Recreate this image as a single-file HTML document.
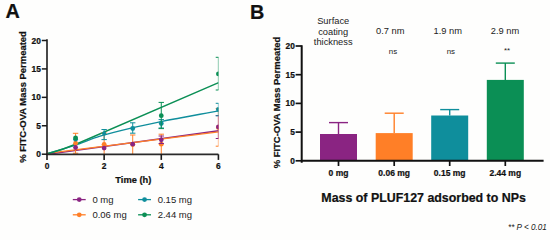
<!DOCTYPE html><html><head><meta charset="utf-8"><style>html,body{margin:0;padding:0;background:#fefefd;width:550px;height:237px;overflow:hidden}svg{display:block}text{font-family:"Liberation Sans",sans-serif}text[font-weight=bold]{stroke:#111;stroke-width:0.22px}</style></head><body>
<svg width="550" height="237" viewBox="0 0 550 237">
<text x="5.5" y="18.2" font-size="19.8" font-weight="bold" fill="#111">A</text>
<text x="249.9" y="18.7" font-size="19.8" font-weight="bold" fill="#111">B</text>
<text transform="translate(26,97) rotate(-90)" text-anchor="middle" font-size="9.45" font-weight="bold" fill="#111">% FITC-OVA Mass Permeated</text>
<defs><clipPath id="ca"><rect x="46" y="30" width="172.4" height="124.6"/></clipPath></defs>
<g clip-path="url(#ca)">
<line x1="46.8" y1="154.4" x2="218.6" y2="130.8" stroke="#8A2482" stroke-width="1.4"/>
<line x1="46.8" y1="153.3" x2="218.6" y2="131.9" stroke="#FF7F27" stroke-width="1.3"/>
<path d="M46.80,153.90 C51.42,152.48 65.63,148.35 74.50,145.40 C83.37,142.45 90.75,139.03 100.00,136.20 C109.25,133.37 119.83,130.83 130.00,128.40 C140.17,125.97 152.67,123.33 161.00,121.60 C169.33,119.87 173.50,119.22 180.00,118.00 C186.50,116.78 193.57,115.48 200.00,114.30 C206.43,113.12 215.50,111.47 218.60,110.90" fill="none" stroke="#0F8E9C" stroke-width="1.4" stroke-linejoin="round"/>
<path d="M46.8,153.9 Q62.9,149.8 78.8,143.0 L218.6,82.7" fill="none" stroke="#0B8F55" stroke-width="1.4" stroke-linejoin="round"/>
<line x1="75.57" y1="133.3" x2="75.57" y2="153.2" stroke="#FF7F27" stroke-width="1"/><line x1="72.86999999999999" y1="133.3" x2="78.27" y2="133.3" stroke="#FF7F27" stroke-width="1"/><line x1="72.86999999999999" y1="153.2" x2="78.27" y2="153.2" stroke="#FF7F27" stroke-width="1"/><circle cx="75.57" cy="143.2" r="2.4" fill="#FF7F27"/>
<line x1="104.14" y1="133.0" x2="104.14" y2="154.9" stroke="#FF7F27" stroke-width="1"/><line x1="101.44" y1="133.0" x2="106.84" y2="133.0" stroke="#FF7F27" stroke-width="1"/><line x1="101.44" y1="154.9" x2="106.84" y2="154.9" stroke="#FF7F27" stroke-width="1"/><circle cx="104.14" cy="144.3" r="2.4" fill="#FF7F27"/>
<line x1="132.71" y1="135.0" x2="132.71" y2="154.9" stroke="#FF7F27" stroke-width="1"/><line x1="130.01000000000002" y1="135.0" x2="135.41" y2="135.0" stroke="#FF7F27" stroke-width="1"/><line x1="130.01000000000002" y1="154.9" x2="135.41" y2="154.9" stroke="#FF7F27" stroke-width="1"/><circle cx="132.71" cy="144.5" r="2.4" fill="#FF7F27"/>
<line x1="161.28" y1="134.2" x2="161.28" y2="154.5" stroke="#FF7F27" stroke-width="1"/><line x1="158.58" y1="134.2" x2="163.98" y2="134.2" stroke="#FF7F27" stroke-width="1"/><line x1="158.58" y1="154.5" x2="163.98" y2="154.5" stroke="#FF7F27" stroke-width="1"/><circle cx="161.28" cy="144.2" r="2.4" fill="#FF7F27"/>
<line x1="218.42000000000002" y1="108.5" x2="218.42000000000002" y2="146.2" stroke="#FF7F27" stroke-width="1"/><line x1="215.72000000000003" y1="108.5" x2="221.12" y2="108.5" stroke="#FF7F27" stroke-width="1"/><line x1="215.72000000000003" y1="146.2" x2="221.12" y2="146.2" stroke="#FF7F27" stroke-width="1"/><circle cx="218.42000000000002" cy="127.5" r="2.4" fill="#FF7F27"/>
<circle cx="75.57" cy="147.5" r="2.4" fill="#8A2482"/>
<circle cx="104.14" cy="148.1" r="2.4" fill="#8A2482"/>
<circle cx="132.71" cy="144.2" r="2.4" fill="#8A2482"/>
<line x1="161.28" y1="136.0" x2="161.28" y2="143.5" stroke="#8A2482" stroke-width="1"/><line x1="158.58" y1="136.0" x2="163.98" y2="136.0" stroke="#8A2482" stroke-width="1"/><line x1="158.58" y1="143.5" x2="163.98" y2="143.5" stroke="#8A2482" stroke-width="1"/><circle cx="161.28" cy="139.8" r="2.4" fill="#8A2482"/>
<line x1="218.42000000000002" y1="115.6" x2="218.42000000000002" y2="138.5" stroke="#8A2482" stroke-width="1"/><line x1="215.72000000000003" y1="115.6" x2="221.12" y2="115.6" stroke="#8A2482" stroke-width="1"/><line x1="215.72000000000003" y1="138.5" x2="221.12" y2="138.5" stroke="#8A2482" stroke-width="1"/><circle cx="218.42000000000002" cy="126.9" r="2.4" fill="#8A2482"/>
<circle cx="75.57" cy="139.2" r="2.4" fill="#0F8E9C"/>
<line x1="104.14" y1="129.5" x2="104.14" y2="139.6" stroke="#0F8E9C" stroke-width="1"/><line x1="101.44" y1="129.5" x2="106.84" y2="129.5" stroke="#0F8E9C" stroke-width="1"/><line x1="101.44" y1="139.6" x2="106.84" y2="139.6" stroke="#0F8E9C" stroke-width="1"/><circle cx="104.14" cy="133.6" r="2.1" fill="#0F8E9C"/>
<line x1="132.71" y1="122.8" x2="132.71" y2="133.2" stroke="#0F8E9C" stroke-width="1"/><line x1="130.01000000000002" y1="122.8" x2="135.41" y2="122.8" stroke="#0F8E9C" stroke-width="1"/><line x1="130.01000000000002" y1="133.2" x2="135.41" y2="133.2" stroke="#0F8E9C" stroke-width="1"/><circle cx="132.71" cy="128.5" r="2.4" fill="#0F8E9C"/>
<line x1="161.28" y1="119.6" x2="161.28" y2="128.0" stroke="#0F8E9C" stroke-width="1"/><line x1="158.58" y1="119.6" x2="163.98" y2="119.6" stroke="#0F8E9C" stroke-width="1"/><line x1="158.58" y1="128.0" x2="163.98" y2="128.0" stroke="#0F8E9C" stroke-width="1"/><circle cx="161.28" cy="123.5" r="2.4" fill="#0F8E9C"/>
<line x1="218.42000000000002" y1="103.3" x2="218.42000000000002" y2="115.8" stroke="#0F8E9C" stroke-width="1"/><line x1="215.72000000000003" y1="103.3" x2="221.12" y2="103.3" stroke="#0F8E9C" stroke-width="1"/><line x1="215.72000000000003" y1="115.8" x2="221.12" y2="115.8" stroke="#0F8E9C" stroke-width="1"/><circle cx="218.42000000000002" cy="109.5" r="2.4" fill="#0F8E9C"/>
<circle cx="75.57" cy="138.0" r="2.4" fill="#0B8F55"/>
<line x1="161.28" y1="102.4" x2="161.28" y2="128.6" stroke="#0B8F55" stroke-width="1"/><line x1="158.58" y1="102.4" x2="163.98" y2="102.4" stroke="#0B8F55" stroke-width="1"/><line x1="158.58" y1="128.6" x2="163.98" y2="128.6" stroke="#0B8F55" stroke-width="1"/><circle cx="161.28" cy="115.7" r="2.4" fill="#0B8F55"/>
<line x1="218.42000000000002" y1="57.3" x2="218.42000000000002" y2="90.0" stroke="#0B8F55" stroke-width="1"/><line x1="215.72000000000003" y1="57.3" x2="221.12" y2="57.3" stroke="#0B8F55" stroke-width="1"/><line x1="215.72000000000003" y1="90.0" x2="221.12" y2="90.0" stroke="#0B8F55" stroke-width="1"/><circle cx="218.42000000000002" cy="73.9" r="2.4" fill="#0B8F55"/>
</g>
<path d="M47,39.2 V154.3 H218.4" fill="none" stroke="#2a2a2a" stroke-width="1.7"/>
<line x1="41.8" y1="154.20" x2="47" y2="154.20" stroke="#1a1a1a" stroke-width="1.5"/>
<text x="40.9" y="157.20" text-anchor="end" font-size="8.4" font-weight="bold" fill="#111">0</text>
<line x1="41.8" y1="125.77" x2="47" y2="125.77" stroke="#1a1a1a" stroke-width="1.5"/>
<text x="40.9" y="128.77" text-anchor="end" font-size="8.4" font-weight="bold" fill="#111">5</text>
<line x1="41.8" y1="97.35" x2="47" y2="97.35" stroke="#1a1a1a" stroke-width="1.5"/>
<text x="40.9" y="100.35" text-anchor="end" font-size="8.4" font-weight="bold" fill="#111">10</text>
<line x1="41.8" y1="68.92" x2="47" y2="68.92" stroke="#1a1a1a" stroke-width="1.5"/>
<text x="40.9" y="71.92" text-anchor="end" font-size="8.4" font-weight="bold" fill="#111">15</text>
<line x1="41.8" y1="40.50" x2="47" y2="40.50" stroke="#1a1a1a" stroke-width="1.5"/>
<text x="40.9" y="43.50" text-anchor="end" font-size="8.4" font-weight="bold" fill="#111">20</text>
<line x1="47.00" y1="154.3" x2="47.00" y2="159.9" stroke="#1a1a1a" stroke-width="1.6"/>
<text x="47.00" y="169.2" text-anchor="middle" font-size="8.4" font-weight="bold" fill="#111">0</text>
<line x1="104.14" y1="154.3" x2="104.14" y2="159.9" stroke="#1a1a1a" stroke-width="1.6"/>
<text x="104.14" y="169.2" text-anchor="middle" font-size="8.4" font-weight="bold" fill="#111">2</text>
<line x1="161.28" y1="154.3" x2="161.28" y2="159.9" stroke="#1a1a1a" stroke-width="1.6"/>
<text x="161.28" y="169.2" text-anchor="middle" font-size="8.4" font-weight="bold" fill="#111">4</text>
<line x1="218.42" y1="154.3" x2="218.42" y2="159.9" stroke="#1a1a1a" stroke-width="1.6"/>
<text x="218.42" y="169.2" text-anchor="middle" font-size="8.4" font-weight="bold" fill="#111">6</text>
<text x="133.3" y="182.8" text-anchor="middle" font-size="9.3" font-weight="bold" fill="#111">Time (h)</text>
<line x1="72.8" y1="199.6" x2="85.7" y2="199.6" stroke="#8A2482" stroke-width="1.3"/>
<circle cx="79.25" cy="199.6" r="2.4" fill="#8A2482"/>
<text x="92.4" y="202.9" font-size="9.5" fill="#222">0 mg</text>
<line x1="72.8" y1="214.8" x2="85.7" y2="214.8" stroke="#FF7F27" stroke-width="1.3"/>
<circle cx="79.25" cy="214.8" r="2.4" fill="#FF7F27"/>
<text x="92.4" y="218.10000000000002" font-size="9.5" fill="#222">0.06 mg</text>
<line x1="138.1" y1="199.6" x2="151.0" y2="199.6" stroke="#0F8E9C" stroke-width="1.3"/>
<circle cx="144.55" cy="199.6" r="2.4" fill="#0F8E9C"/>
<text x="157.7" y="202.9" font-size="9.5" fill="#222">0.15 mg</text>
<line x1="138.1" y1="214.8" x2="151.0" y2="214.8" stroke="#0B8F55" stroke-width="1.3"/>
<circle cx="144.55" cy="214.8" r="2.4" fill="#0B8F55"/>
<text x="157.7" y="218.10000000000002" font-size="9.5" fill="#222">2.44 mg</text>
<text transform="translate(280,102.5) rotate(-90)" text-anchor="middle" font-size="9.45" font-weight="bold" fill="#111">% FITC-OVA Mass Permeated</text>
<line x1="338.5" y1="122.6" x2="338.5" y2="134.0" stroke="#8A2482" stroke-width="1.4"/>
<line x1="329.0" y1="122.6" x2="348.0" y2="122.6" stroke="#8A2482" stroke-width="1.4"/>
<rect x="320.0" y="134.0" width="37" height="26.80000000000001" fill="#8A2482"/>
<line x1="338.5" y1="160.8" x2="338.5" y2="166" stroke="#111" stroke-width="1.7"/>
<text x="338.5" y="175.5" text-anchor="middle" font-size="8.5" font-weight="bold" fill="#111">0 mg</text>
<line x1="394.2" y1="113.2" x2="394.2" y2="133.1" stroke="#FF7F27" stroke-width="1.4"/>
<line x1="384.7" y1="113.2" x2="403.7" y2="113.2" stroke="#FF7F27" stroke-width="1.4"/>
<rect x="375.7" y="133.1" width="37" height="27.700000000000017" fill="#FF7F27"/>
<line x1="394.2" y1="160.8" x2="394.2" y2="166" stroke="#111" stroke-width="1.7"/>
<text x="394.2" y="175.5" text-anchor="middle" font-size="8.5" font-weight="bold" fill="#111">0.06 mg</text>
<line x1="449.7" y1="109.6" x2="449.7" y2="115.5" stroke="#0F8E9C" stroke-width="1.4"/>
<line x1="440.2" y1="109.6" x2="459.2" y2="109.6" stroke="#0F8E9C" stroke-width="1.4"/>
<rect x="431.2" y="115.5" width="37" height="45.30000000000001" fill="#0F8E9C"/>
<line x1="449.7" y1="160.8" x2="449.7" y2="166" stroke="#111" stroke-width="1.7"/>
<text x="449.7" y="175.5" text-anchor="middle" font-size="8.5" font-weight="bold" fill="#111">0.15 mg</text>
<line x1="505.3" y1="63.1" x2="505.3" y2="79.9" stroke="#0B8F55" stroke-width="1.4"/>
<line x1="495.8" y1="63.1" x2="514.8" y2="63.1" stroke="#0B8F55" stroke-width="1.4"/>
<rect x="486.8" y="79.9" width="37" height="80.9" fill="#0B8F55"/>
<line x1="505.3" y1="160.8" x2="505.3" y2="166" stroke="#111" stroke-width="1.7"/>
<text x="505.3" y="175.5" text-anchor="middle" font-size="8.5" font-weight="bold" fill="#111">2.44 mg</text>
<path d="M301.7,45.2 V162.7 M300.7,160.8 H543.6" fill="none" stroke="#111" stroke-width="2"/>
<line x1="295.6" y1="160.80" x2="301.7" y2="160.80" stroke="#111" stroke-width="1.7"/>
<text x="294.8" y="163.80" text-anchor="end" font-size="8.4" font-weight="bold" fill="#111">0</text>
<line x1="295.6" y1="132.10" x2="301.7" y2="132.10" stroke="#111" stroke-width="1.7"/>
<text x="294.8" y="135.10" text-anchor="end" font-size="8.4" font-weight="bold" fill="#111">5</text>
<line x1="295.6" y1="103.40" x2="301.7" y2="103.40" stroke="#111" stroke-width="1.7"/>
<text x="294.8" y="106.40" text-anchor="end" font-size="8.4" font-weight="bold" fill="#111">10</text>
<line x1="295.6" y1="74.70" x2="301.7" y2="74.70" stroke="#111" stroke-width="1.7"/>
<text x="294.8" y="77.70" text-anchor="end" font-size="8.4" font-weight="bold" fill="#111">15</text>
<line x1="295.6" y1="46.00" x2="301.7" y2="46.00" stroke="#111" stroke-width="1.7"/>
<text x="294.8" y="49.00" text-anchor="end" font-size="8.4" font-weight="bold" fill="#111">20</text>
<text x="333.2" y="23.6" text-anchor="middle" font-size="9.3" fill="#222">Surface</text>
<text x="333.2" y="34.6" text-anchor="middle" font-size="9.3" fill="#222">coating</text>
<text x="333.2" y="45.2" text-anchor="middle" font-size="9.3" fill="#222">thickness</text>
<text x="390.2" y="33.8" text-anchor="middle" font-size="9.3" fill="#222">0.7 nm</text>
<text x="447.8" y="33.8" text-anchor="middle" font-size="9.3" fill="#222">1.9 nm</text>
<text x="505" y="33.8" text-anchor="middle" font-size="9.3" fill="#222">2.9 nm</text>
<text x="393" y="54.2" text-anchor="middle" font-size="7.9" fill="#222">ns</text>
<text x="450.8" y="54.2" text-anchor="middle" font-size="7.9" fill="#222">ns</text>
<text x="507" y="52.9" text-anchor="middle" font-size="7.9" fill="#222">**</text>
<text x="423.6" y="201.8" text-anchor="middle" font-size="12.4" font-weight="bold" fill="#111">Mass of PLUF127 adsorbed to NPs</text>
<text x="546.8" y="229.9" text-anchor="end" font-size="8.15" font-style="italic" fill="#222">** P &lt; 0.01</text>
</svg></body></html>
